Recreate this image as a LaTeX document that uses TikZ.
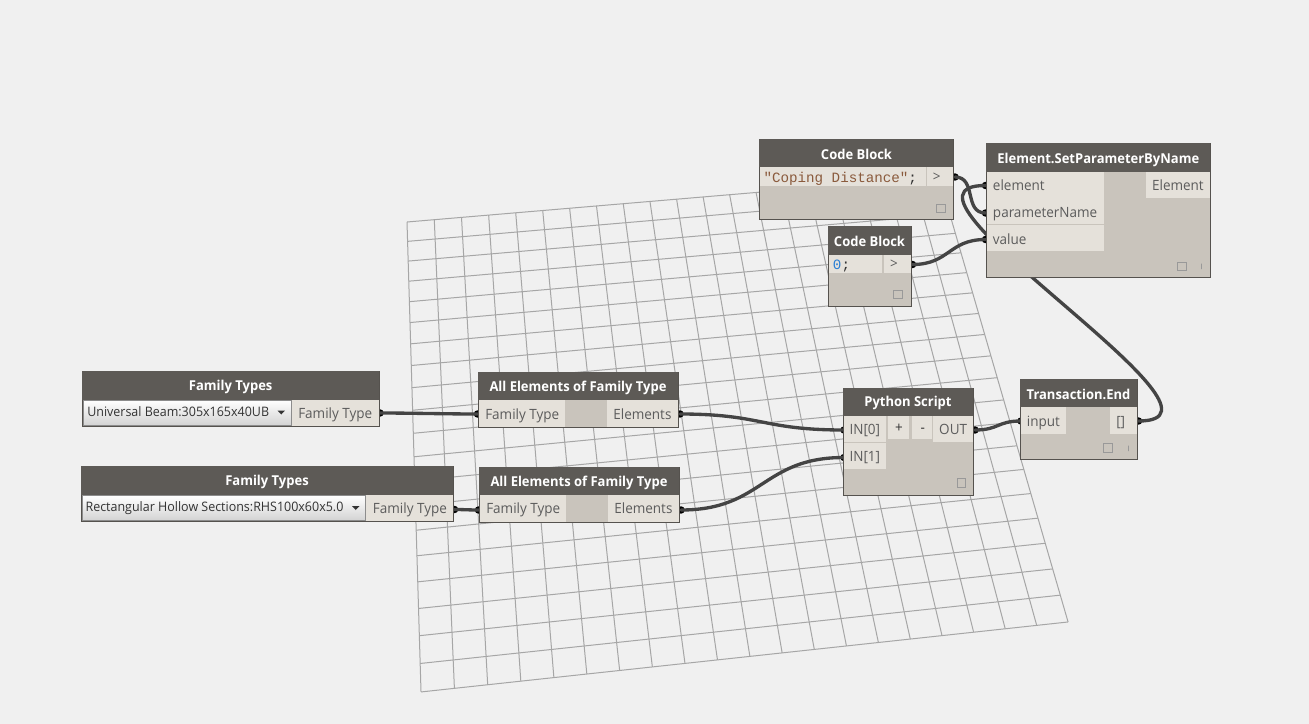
\documentclass[tikz,border=0pt]{standalone}
\usepackage{fontspec}
\setmainfont{Open Sans}[FakeStretch=0.955]
\newfontfamily\codefont{Liberation Mono}
\definecolor{bgc}{HTML}{F0F0F0}
\definecolor{headc}{HTML}{5D5A56}
\definecolor{bodyc}{HTML}{C9C4BC}
\definecolor{portc}{HTML}{E5E1DA}
\definecolor{edgec}{HTML}{55524E}
\definecolor{wirec}{HTML}{444444}
\definecolor{gridc}{HTML}{A6A6A6}
\definecolor{labc}{HTML}{5C5C5C}
\definecolor{strc}{HTML}{8A5A3C}
\definecolor{numc}{HTML}{2A7FD5}
\tikzset{
  bodybox/.style={fill=bodyc,draw=edgec,line width=0.6pt},
  headbox/.style={fill=headc,draw=none},
  portbox/.style={fill=portc,draw=none},
  dropbox/.style={top color=white,bottom color=black!17,draw=black!45,line width=0.5pt},
  markbox/.style={draw=black!40,fill=none,line width=0.6pt},
  title/.style={text=white,font=\fontsize{10.2pt}{12pt}\selectfont\bfseries,inner sep=0pt,anchor=base},
  lab/.style={text=labc,font=\fontsize{10.6pt}{12pt}\selectfont,inner sep=0pt},
  drop/.style={text=black!80,font=\fontsize{9.8pt}{12pt}\selectfont,inner sep=0pt,anchor=base west},
  code/.style={font=\fontsize{10.65pt}{12pt}\selectfont\codefont,inner sep=0pt,anchor=base west},
  dot/.style={circle,fill=black,inner sep=0pt,minimum size=5.6pt},
  wire/.style={draw=wirec,line width=2.5pt,line cap=round},
  gridline/.style={draw=gridc,line width=0.75pt}
}
% px box: style, name, x0, y0, x1, y1
\newcommand{\pxbox}[6]{\node[#1,inner sep=0pt,minimum width={(#5-#3)*0.75pt},minimum height={(#6-#4)*0.75pt}] (#2) at ({(#3+#5)/2},{(#4+#6)/2}) {};}
\newcommand{\gmapx}[2]{(557.7*#1-63.1*#2+407)/(0.02736*#1-0.1832*#2+1)}
\newcommand{\gmapy}[2]{(-40.16*#1+343.2*#2+222)/(0.02736*#1-0.1832*#2+1)}
\begin{document}
\begin{tikzpicture}[x=0.75pt,y=-0.75pt]
\useasboundingbox (0,0) rectangle (1309,724);
\fill[bgc] (0,0) rectangle (1309,724);
% ---------- perspective grid
\foreach \i in {0,...,20}{
  \pgfmathsetmacro{\t}{\i/20}
  \pgfmathsetmacro{\ax}{\gmapx{\t}{0}}
  \pgfmathsetmacro{\ay}{\gmapy{\t}{0}}
  \pgfmathsetmacro{\bx}{\gmapx{\t}{1}}
  \pgfmathsetmacro{\by}{\gmapy{\t}{1}}
  \draw[gridline] (\ax,\ay) -- (\bx,\by);
  \pgfmathsetmacro{\cx}{\gmapx{0}{\t}}
  \pgfmathsetmacro{\cy}{\gmapy{0}{\t}}
  \pgfmathsetmacro{\dx}{\gmapx{1}{\t}}
  \pgfmathsetmacro{\dy}{\gmapy{1}{\t}}
  \draw[gridline] (\cx,\cy) -- (\dx,\dy);
}
% ---------- ports
\node[dot] (ft1out) at (380,413) {};
\node[dot] (ft2out) at (454.5,509.5) {};
\node[dot] (ae1in) at (477.5,414) {};
\node[dot] (ae1out) at (680,414) {};
\node[dot] (ae2in) at (478.5,510) {};
\node[dot] (ae2out) at (681,510) {};
\node[dot] (pyin0) at (844,430) {};
\node[dot] (pyin1) at (844,457.5) {};
\node[dot] (pyout) at (975,430) {};
\node[dot] (tein) at (1021,421) {};
\node[dot] (teout) at (1138.5,421) {};
\node[dot] (cb1out) at (955,177) {};
\node[dot] (cb2out) at (912.5,264.5) {};
\node[dot] (elin1) at (985.5,185.5) {};
\node[dot] (elin2) at (985.5,213) {};
\node[dot] (elin3) at (985.5,239.5) {};
% ---------- wires
\draw[wire] (ft1out.center) .. controls +(30,0) and +(-30,0) .. (ae1in.center);
\draw[wire] (ft2out.center) .. controls +(10,0) and +(-10,0) .. (ae2in.center);
\draw[wire] (ae1out.center) .. controls +(82,0) and +(-82,0) .. (pyin0.center);
\draw[wire] (ae2out.center) .. controls +(82,0) and +(-82,0) .. (pyin1.center);
\draw[wire] (pyout.center) .. controls +(24,0) and +(-24,0) .. (tein.center);
\draw[wire] (teout.center) .. controls +(120,0) and +(-120,0) .. (elin1.center);
\draw[wire] (cb1out.center) .. controls +(22,0) and +(-22,0) .. (elin2.center);
\draw[wire] (cb2out.center) .. controls +(37,0) and +(-37,0) .. (elin3.center);
% ---------- Code Block 1
\pxbox{bodybox}{cb1}{759}{139}{953}{219}
\pxbox{headbox}{cb1h}{759}{139}{953}{167}
\pxbox{portbox}{cb1t}{760}{167}{926}{186}
\pxbox{portbox}{cb1b}{927}{167}{952.5}{186}
\pxbox{markbox}{cb1m}{936}{204}{945}{212}
\node[title] (cb1n) at (856.5,159) {Code Block};
\node[code] (cb1c) at (763.3,182) {\textcolor{strc}{"Coping Distance"}\textcolor{black!80}{;}};
\node[lab,anchor=base] (cb1g) at (936.7,181) {>};
% ---------- Code Block 2
\pxbox{bodybox}{cb2}{828}{226}{911}{306.5}
\pxbox{headbox}{cb2h}{828}{226}{911}{255}
\pxbox{portbox}{cb2t}{829}{255}{882}{273}
\pxbox{portbox}{cb2b}{884}{255}{910.5}{273}
\pxbox{markbox}{cb2m}{893}{290}{902}{298}
\node[title] (cb2n) at (869.5,246) {Code Block};
\node[code] (cb2c) at (832.7,269.3) {\textcolor{numc}{0}\textcolor{black!80}{;}};
\node[lab,anchor=base] (cb2g) at (894,268.5) {>};
% ---------- Element.SetParameterByName
\pxbox{bodybox}{el}{986}{143}{1210}{277}
\pxbox{headbox}{elh}{986}{143}{1210}{172}
\pxbox{portbox}{elp1}{987}{172}{1104}{198}
\pxbox{portbox}{elp2}{987}{198}{1104}{224}
\pxbox{portbox}{elp3}{987}{225}{1104}{251}
\pxbox{portbox}{elo}{1146}{172}{1209.5}{198}
\pxbox{markbox}{elm}{1177}{262}{1186}{270}
\pxbox{markbox}{elk}{1201}{263.5}{1201}{269}
\node[title] (eln) at (1098.3,163.3) {Element.SetParameterByName};
\node[lab,anchor=base west] (ell1) at (992.7,190) {element};
\node[lab,anchor=base west] (ell2) at (992.7,217) {parameterName};
\node[lab,anchor=base west] (ell3) at (992.7,244) {value};
\node[lab,anchor=base east] (ell4) at (1204,190) {Element};
% ---------- Family Types 1
\pxbox{bodybox}{ft1}{82}{371}{379}{426}
\pxbox{headbox}{ft1h}{82}{371}{379}{399.5}
\pxbox{portbox}{ft1p}{292}{399.5}{378.5}{425.5}
\pxbox{dropbox}{ft1d}{83}{400}{291.5}{425}
\node[title] (ft1n) at (230.7,390.7) {Family Types};
\node[drop] (ft1v) at (87,416.7) {Universal Beam:305x165x40UB};
\fill[black!80] (277.5,410.5) -- (285,410.5) -- (281.25,414.5) -- cycle;
\node[lab,anchor=base west] (ft1l) at (298,418) {Family Type};
% ---------- Family Types 2
\pxbox{bodybox}{ft2}{81}{466}{453}{521}
\pxbox{headbox}{ft2h}{81}{466}{453}{495}
\pxbox{portbox}{ft2p}{366}{495}{452.5}{520.5}
\pxbox{dropbox}{ft2d}{82}{495.5}{365.5}{520}
\node[title] (ft2n) at (267,485) {Family Types};
\node[drop] (ft2v) at (85.3,511.7) {Rectangular Hollow Sections:RHS100x60x5.0};
\fill[black!80] (352,506) -- (359.5,506) -- (355.75,510) -- cycle;
\node[lab,anchor=base west] (ft2l) at (372.7,513) {Family Type};
% ---------- All Elements 1
\pxbox{bodybox}{ae1}{478}{372}{678}{427}
\pxbox{headbox}{ae1h}{478}{372}{678}{400}
\pxbox{portbox}{ae1p}{479}{400}{565}{426.5}
\pxbox{portbox}{ae1o}{607}{400}{677.5}{426.5}
\node[title] (ae1n) at (578,391) {All Elements of Family Type};
\node[lab,anchor=base west] (ae1l) at (485,419) {Family Type};
\node[lab,anchor=base east] (ae1r) at (671.7,419) {Elements};
% ---------- All Elements 2
\pxbox{bodybox}{ae2}{479}{467}{679}{522}
\pxbox{headbox}{ae2h}{479}{467}{679}{495}
\pxbox{portbox}{ae2p}{480}{495}{566}{521.5}
\pxbox{portbox}{ae2o}{608}{495}{678.5}{521.5}
\node[title] (ae2n) at (579,486.7) {All Elements of Family Type};
\node[lab,anchor=base west] (ae2l) at (486,513.5) {Family Type};
\node[lab,anchor=base east] (ae2r) at (672.7,513.5) {Elements};
% ---------- Python Script
\pxbox{bodybox}{py}{843}{388}{973}{495}
\pxbox{headbox}{pyh}{843}{388}{973}{416}
\pxbox{portbox}{pyp0}{844}{416}{886}{442}
\pxbox{portbox}{pyp1}{844}{443}{886}{469}
\pxbox{portbox}{pyplus}{888}{416}{909}{439}
\pxbox{portbox}{pyminus}{912}{416}{932}{439}
\pxbox{portbox}{pyo}{933}{416}{972.5}{442}
\pxbox{markbox}{pym}{957}{478}{965}{487}
\node[title] (pyn) at (908,406.7) {Python Script};
\node[lab,anchor=base west] (pyl0) at (849.3,434) {IN[0]};
\node[lab,anchor=base west] (pyl1) at (849.3,461.7) {IN[1]};
\node[lab,anchor=base,text=black!80] (pylp) at (899,432.5) {+};
\node[lab,anchor=base,text=black!80] (pylm) at (922.7,432.5) {-};
\node[lab,anchor=base east] (pylo) at (967.3,434) {OUT};
% ---------- Transaction.End
\pxbox{bodybox}{te}{1020}{379}{1137}{459}
\pxbox{headbox}{teh}{1020}{379}{1137}{407}
\pxbox{portbox}{tep}{1021}{407}{1066}{433.5}
\pxbox{portbox}{teo}{1110}{407}{1136.5}{433.5}
\pxbox{markbox}{tem}{1103}{443}{1112}{452}
\pxbox{markbox}{tek}{1128}{445.5}{1128}{451}
\node[title] (ten) at (1078.5,399.3) {Transaction.End};
\node[lab,anchor=base west] (tel) at (1026.7,426) {input};
\node[lab,anchor=base] (ter) at (1120.7,426) {[]};
\end{tikzpicture}
\end{document}
